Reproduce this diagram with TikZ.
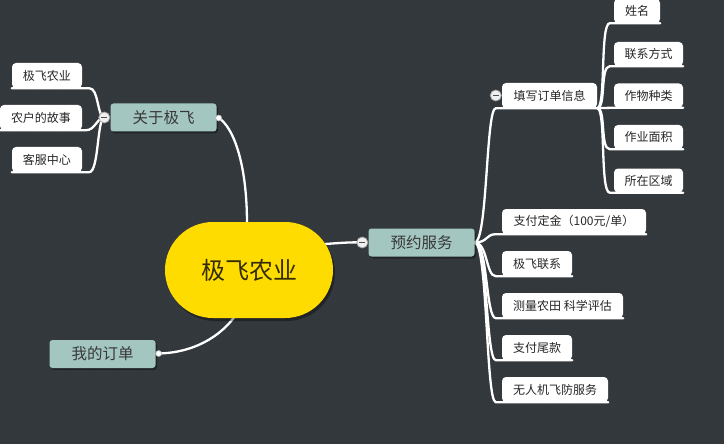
\documentclass[tikz,border=0pt]{standalone}
\usepackage{fontspec}
\setmainfont{Noto Sans CJK SC}
\usetikzlibrary{shadows,calc,patterns}
\definecolor{bgc}{HTML}{33383C}
\definecolor{dotc}{HTML}{3D4347}
\definecolor{topicc}{HTML}{A3C6C0}
\definecolor{yel}{HTML}{FFDC00}
\pgfdeclarelayer{bgl}
\pgfdeclarelayer{conl}
\pgfsetlayers{bgl,conl,main}
\tikzset{
  conn/.style={draw=white, line width=2.3pt, line cap=round},
  leaf/.style={fill=white, rounded corners=4pt, text=black!85, font=\fontsize{12}{14}\selectfont, inner sep=0pt, minimum height=25pt},
  topic/.style={fill=topicc, rounded corners=3pt, text=black!78, font=\fontsize{15.5}{18}\selectfont, inner sep=0pt, minimum height=28pt, minimum width=106pt,
    drop shadow={shadow xshift=1.5pt, shadow yshift=-2pt, opacity=0.35, fill=black}},
  centre/.style={fill=yel, rounded corners=48pt, text=black!80!yel, font=\fontsize{24}{28}\selectfont, minimum width=168pt, minimum height=96pt, inner sep=0pt,
    drop shadow={shadow xshift=2pt, shadow yshift=-3pt, opacity=0.35, fill=black}},
  minus/.style={circle, draw=gray!70, line width=0.8pt, fill=white!88!gray, minimum size=11pt, inner sep=0pt,
    path picture={\draw[black!70, line width=1pt] ([xshift=-3pt]path picture bounding box.center) -- ([xshift=3pt]path picture bounding box.center);}},
  enddot/.style={circle, fill=white, draw=gray!60, line width=0.6pt, minimum size=6pt, inner sep=0pt}
}
\begin{document}
\begin{tikzpicture}[x=1pt,y=-1pt]
\begin{pgfonlayer}{bgl}
\fill[bgc] (0,0) rectangle (724,444);
\fill[pattern=dots, pattern color=dotc] (0,0) rectangle (724,444);
\end{pgfonlayer}
\useasboundingbox (0,0) rectangle (724,444);

% central and topics
\node[centre] (c) at (249,270) {极飞农业};
\node[topic] (gy) at (163.5,117.5) {关于极飞};
\node[topic] (wd) at (102.5,354) {我的订单};
\node[topic] (yy) at (421.5,242.5) {预约服务};

% leaves of 关于极飞
\node[leaf, minimum width=70pt] (k1) at (47,75.5) {极飞农业};
\node[leaf, minimum width=82pt] (k2) at (41,117.5) {农户的故事};
\node[leaf, minimum width=70pt] (k3) at (47,159.5) {客服中心};

% children of 预约服务
\node[leaf, minimum width=95pt] (tx) at (549.5,95.5) {填写订单信息};
\node[leaf, minimum width=144pt] (a1) at (574,221.5) {支付定金（100元/单）};
\node[leaf, minimum width=70pt] (a2) at (537,263.5) {极飞联系};
\node[leaf, minimum width=121pt] (a3) at (562.5,305.5) {测量农田 科学评估};
\node[leaf, minimum width=70pt] (a4) at (537,347.5) {支付尾款};
\node[leaf, minimum width=106pt] (a5) at (555,389.5) {无人机飞防服务};

% children of 填写订单信息
\node[leaf, minimum width=46pt, minimum height=24pt] (g1) at (637,11) {姓名};
\node[leaf, minimum width=69pt, minimum height=24pt] (g2) at (648.5,54) {联系方式};
\node[leaf, minimum width=69pt, minimum height=24pt] (g3) at (648.5,95.5) {作物种类};
\node[leaf, minimum width=69pt, minimum height=24pt] (g4) at (648.5,137) {作业面积};
\node[leaf, minimum width=69pt, minimum height=24pt] (g5) at (648.5,180.5) {所在区域};

% collapse markers and end dots
\node[minus] (mgy) at ($(gy.west)+(-6,0)$) {};
\node[minus] (myy) at ($(yy.west)+(-6,0)$) {};
\node[minus] (mtx) at ($(tx.west)+(-6,0)$) {};
\node[enddot] (dgy) at ($(gy.east)+(2,0.5)$) {};
\node[enddot] (dwd) at ($(wd.east)+(3,-0.5)$) {};

\begin{pgfonlayer}{conl}
% centre to topics
\draw[conn] ($(c.north)+(-2,2)$) .. controls (247,160) and (232,126) .. (dgy.center);
\draw[conn] ($(c.south)+(-14,-2)$) .. controls (215,343) and (185,353) .. (dwd.center);
\draw[conn] ($(c.east)+(-8,-26)$) .. controls (340,243) and (350,242) .. (myy.center);

% 关于极飞 leaves
\draw[conn] (mgy.center) .. controls (97,117) and (99,88) .. ($(k1.south east)+(7,0)$) -- (k1.south west);
\draw[conn] (mgy.center) .. controls (97,118) and (95,130) .. ($(k2.south east)+(4,0)$) -- (k2.south west);
\draw[conn] (mgy.center) .. controls (97,118) and (99,172) .. ($(k3.south east)+(7,0)$) -- (k3.south west);

% 预约服务 children
\foreach \n in {tx,a1,a2,a3,a4,a5}{
  \draw[conn] (yy.east) .. controls ($(yy.east)+(13,0)$) and ($(\n.south west)+(-16,0)$) .. ($(\n.south west)+(-6,0)$) -- (\n.south east);
}
% 填写订单信息 children
\foreach \n in {g1,g2,g4,g5}{
  \draw[conn] (tx.south east) .. controls ($(tx.south east)+(9,0)$) and ($(\n.south west)+(-14,0)$) .. ($(\n.south west)+(-4,0)$) -- (\n.south east);
}
\draw[conn] (tx.south east) -- (g3.south west) -- (g3.south east);
\end{pgfonlayer}
\end{tikzpicture}
\end{document}
